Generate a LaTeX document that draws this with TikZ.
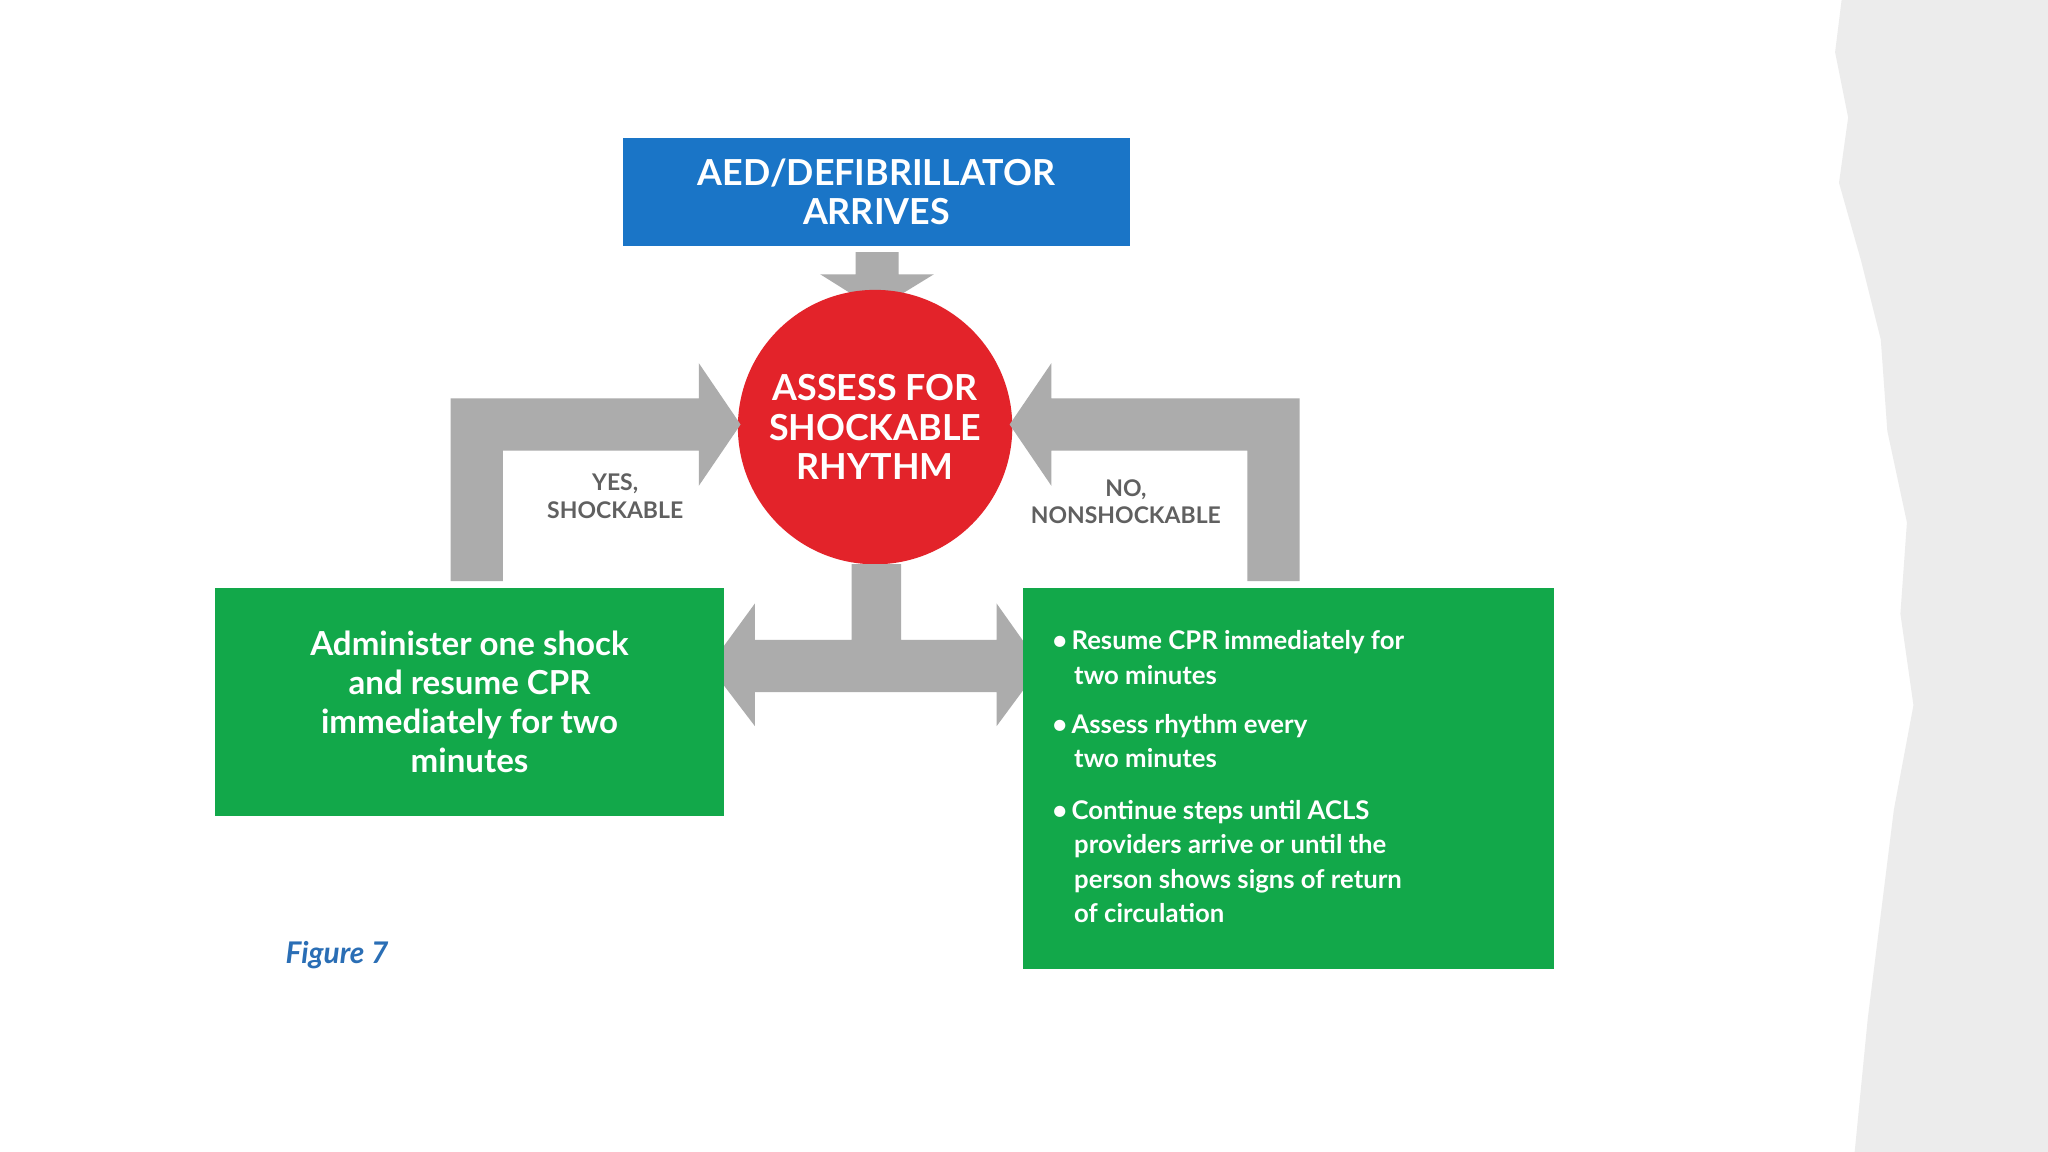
\documentclass[tikz,border=0pt]{standalone}
\usepackage{fontspec}
\setmainfont{Lato}
\begin{document}
\begin{tikzpicture}[x=0.01cm,y=-0.01cm,
 arr/.style={fill=gray!65,draw=none},
 lbl/.style={text=gray!75!black,font=\bfseries\fontsize{5}{6}\selectfont,align=center},
 bul/.style={anchor=north west,text=white,font=\bfseries\fontsize{5.6}{7.5}\selectfont,align=left,inner sep=0}]
\definecolor{gr}{HTML}{12A84A}
\definecolor{bl}{HTML}{1A75C7}
\definecolor{rd}{HTML}{E3232A}
\definecolor{fb}{HTML}{2A6EB5}
\useasboundingbox (0,0) rectangle (1568,882);
\fill[white] (0,0) rectangle (1568,882);
\fill[gray!15] (1568,0) -- (1410,0) -- (1405,40) -- (1415,90) -- (1408,140) -- (1425,200) -- (1440,260) -- (1445,330) -- (1460,400) -- (1455,470) -- (1465,540) -- (1450,620) -- (1440,700) -- (1430,780) -- (1420,882) -- (1568,882) -- cycle;
% blue box
\node[fill=bl,minimum width=3.88cm,minimum height=0.83cm,inner sep=0,text=white,align=center,font=\bfseries\fontsize{7.8}{8.6}\selectfont] (aed) at (671,147) {AED/DEFIBRILLATOR\\ARRIVES};
% down arrow
\fill[arr] (655,193) -- (688,193) -- (688,210) -- (715,210) -- (671,237) -- (628,210) -- (655,210) -- cycle;
% circle
\node[circle,fill=rd,minimum size=2.10cm,inner sep=0,text=white,align=center,font=\bfseries\fontsize{7.8}{8.6}\selectfont] (ass) at (670,327) {ASSESS FOR\\SHOCKABLE\\RHYTHM};
% left bracket
\fill[arr] (345,445) -- (345,305) -- (535,305) -- (535,278) -- (567,325) -- (535,372) -- (535,345) -- (385,345) -- (385,445) -- cycle;
% right bracket
\fill[arr] (995,445) -- (995,305) -- (805,305) -- (805,278) -- (773,325) -- (805,372) -- (805,345) -- (955,345) -- (955,445) -- cycle;
% bottom T
\fill[arr] (652,432) -- (690,432) -- (690,490) -- (763,490) -- (763,462) -- (797,510) -- (763,556) -- (763,530) -- (578,530) -- (578,556) -- (543,510) -- (578,462) -- (578,490) -- (652,490) -- cycle;
\node[lbl] (yes) at (471,380) {YES,\\SHOCKABLE};
\node[lbl] (no) at (862,384) {NO,\\NONSHOCKABLE};
% green boxes
\node[fill=gr,minimum width=3.89cm,minimum height=1.75cm,inner sep=0,text=white,align=center,font=\bfseries\fontsize{7.2}{8.5}\selectfont] (left) at (359.5,537.5) {Administer one shock\\and resume CPR\\immediately for two\\minutes};
\fill[gr] (783,450) rectangle (1190,742);
\node[bul] (b1) at (805,482) {\textbullet\,Resume CPR immediately for\\\hspace*{0.85em}two minutes};
\node[bul] (b2) at (805,546) {\textbullet\,Assess rhythm every\\\hspace*{0.85em}two minutes};
\node[bul] (b3) at (805,612) {\textbullet\,Continue steps until ACLS\\\hspace*{0.85em}providers arrive or until the\\\hspace*{0.85em}person shows signs of return\\\hspace*{0.85em}of circulation};
\node[text=fb,font=\bfseries\itshape\fontsize{6.5}{7}\selectfont] (fig) at (258,731) {Figure 7};
\end{tikzpicture}
\end{document}
